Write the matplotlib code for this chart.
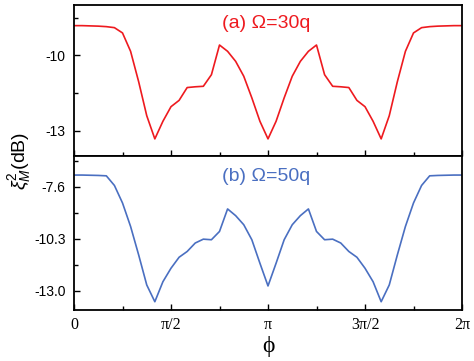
import numpy as np
import matplotlib
matplotlib.use("Agg")
import matplotlib.pyplot as plt
from matplotlib.ticker import MultipleLocator, FixedLocator, FormatStrFormatter

plt.rcParams['font.family'] = ['Liberation Sans', 'DejaVu Sans']
plt.rcParams['mathtext.fontset'] = 'custom'
plt.rcParams['mathtext.rm'] = 'Liberation Sans'
plt.rcParams['mathtext.it'] = 'Liberation Sans:italic'

# phi sampled every pi/24 from 0 to 2pi (49 points)
n_points = 49
phi = np.linspace(0, 2 * np.pi, n_points)

xi_30q = [-8.82, -8.82, -8.83, -8.84, -8.86, -8.90, -9.11, -9.84, -11.05, -12.40,
          -13.32, -12.62, -12.04, -11.79, -11.28, -11.25, -11.23, -10.77, -9.59, -9.84,
          -10.24, -10.83, -11.69, -12.62, -13.32, -12.62, -11.69, -10.83, -10.24, -9.84,
          -9.59, -10.77, -11.23, -11.25, -11.28, -11.79, -12.04, -12.62, -13.32, -12.40,
          -11.05, -9.84, -9.11, -8.90, -8.86, -8.84, -8.83, -8.82, -8.82]

xi_50q = [-6.99, -6.99, -7.00, -7.01, -7.03, -7.53, -8.44, -9.66, -11.14, -12.70,
          -13.57, -12.53, -11.83, -11.26, -10.96, -10.52, -10.32, -10.35, -9.92, -8.75,
          -9.10, -9.57, -10.35, -11.57, -12.75, -11.57, -10.35, -9.57, -9.10, -8.75,
          -9.92, -10.35, -10.32, -10.52, -10.96, -11.26, -11.83, -12.53, -13.57, -12.70,
          -11.14, -9.66, -8.44, -7.53, -7.03, -7.01, -7.00, -6.99, -6.99]

xtick_vals = [0, np.pi / 2, np.pi, 3 * np.pi / 2, 2 * np.pi]
xtick_labels = ['0', 'π/2', 'π', '3π/2', '2π']
yticks_a = [-13, -10]
yticks_b = [-13.0, -10.3, -7.6]

red = '#ee1a1f'
blue = '#4a6fc1'

fig = plt.figure(figsize=(4.74, 3.61), dpi=100)
L, R = 74 / 474, 462 / 474
ax1 = fig.add_axes([L, 1 - 156 / 361, R - L, 151 / 361])
ax2 = fig.add_axes([L, 1 - 310 / 361, R - L, 154 / 361])

ax1.plot(phi, xi_30q, color=red, lw=1.2)
ax2.plot(phi, xi_50q, color=blue, lw=1.2)

for ax in (ax1, ax2):
    ax.set_xlim(0, 2 * np.pi)
    ax.xaxis.set_major_locator(FixedLocator(xtick_vals))
    ax.xaxis.set_minor_locator(MultipleLocator(np.pi / 4))
    ax.tick_params(which='both', direction='in', top=False, right=False,
                   labelsize=10, pad=6, width=1.0)
    ax.tick_params(which='major', length=4.5)
    ax.tick_params(which='minor', length=2.8)
    for s in ax.spines.values():
        s.set_linewidth(1.3)

ax1.set_ylim(-14, -8)
ax1.yaxis.set_major_locator(FixedLocator(yticks_a))
ax1.yaxis.set_minor_locator(FixedLocator([-11.5, -8.5]))
ax1.yaxis.set_major_formatter(FormatStrFormatter('%d'))
ax1.set_xticklabels([])

ax2.set_ylim(-14, -6)
ax2.yaxis.set_major_locator(FixedLocator(yticks_b))
ax2.yaxis.set_minor_locator(FixedLocator([-11.65, -8.95, -6.25]))
ax2.yaxis.set_major_formatter(FormatStrFormatter('%.1f'))
ax2.set_xticklabels(xtick_labels, family=['Liberation Serif', 'DejaVu Serif'], fontsize=11.5)
ax2.tick_params(axis='x', pad=5)
ax2.set_xlabel('ϕ', family=['Liberation Serif', 'DejaVu Serif'], fontsize=17, labelpad=2)

ax1.text(0.495, 0.88, '(a) Ω=30q', transform=ax1.transAxes, color=red,
         fontsize=14, ha='center', va='center')
ax2.text(0.495, 0.866, '(b) Ω=50q', transform=ax2.transAxes, color=blue,
         fontsize=14, ha='center', va='center')

fig.text(20 / 474, 1 - 161 / 361, r'$\xi^2_M$(dB)', rotation=90,
         ha='center', va='center', fontsize=14)

fig.savefig('out.png', dpi=100)
